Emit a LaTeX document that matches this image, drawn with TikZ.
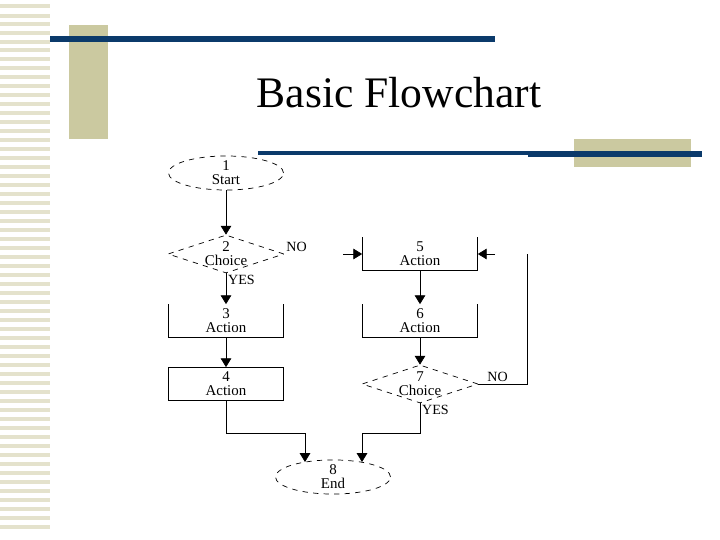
\documentclass[tikz,border=0pt]{standalone}
\usepackage{fontspec}
\setmainfont{Liberation Serif}
\usetikzlibrary{shapes.geometric,arrows.meta}
\definecolor{navy}{HTML}{0B3A6B}
\definecolor{khaki}{HTML}{CBC9A0}
\definecolor{stripe}{HTML}{E4E2CC}
\begin{document}
\begin{tikzpicture}[x=0.02cm, y=-0.02cm,
    every node/.style = {font=\fontsize{8.5}{8}\selectfont, align=center},
    term/.style = {ellipse, draw, dashed, minimum width=2.3cm, minimum height=0.66cm, inner sep=0},
    choice/.style = {diamond, draw, dashed, minimum width=2.32cm, minimum height=0.76cm, inner sep=0},
    act/.style = {rectangle, minimum width=2.3cm, minimum height=0.66cm, inner sep=0},
    flow/.style = {-{Triangle[width=6pt,length=5pt]}},
    lbl/.style = {font=\fontsize{8}{8}\selectfont, inner sep=1pt}]
    \useasboundingbox (0,0) rectangle (720,540);

    % decoration
    \foreach \y in {4,14,22,31,40,48,57,66,75,84,93,102,111,120,129,138,147,156,165,174,183,192,201,210,219,228,237,246,255,264,273,282,291,300,309,318,327,336,345,354,363,372,381,390,399,408,417,426,435,444,453,462,471,480,489,498,507,516,525}
        \fill [stripe] (0,\y) rectangle (50,\y+4);
    \fill [khaki] (69,25) rectangle (108,139);
    \fill [navy] (50,36) rectangle (495,42);
    \fill [khaki] (574,139) rectangle (691,167);
    \fill [navy] (258,151) rectangle (702,155);
    \fill [navy] (528,151) rectangle (702,157);

    \node [font=\fontsize{24.8}{28}\selectfont] (title) at (399,93) {Basic Flowchart};

    % left column
    \node [term] (n1) at (226,173) {1\\Start};
    \node [choice, label=center:{2\\Choice}] (n2) at (226,254) {};
    \node [act] (n3) at (226,321) {3\\Action};
    \node [act, draw] (n4) at (226,384) {4\\Action};

    % right column
    \node [act] (n5) at (420,254) {5\\Action};
    \node [act] (n6) at (420,321) {6\\Action};
    \node [choice, label=center:{7\\Choice}] (n7) at (420,384) {};

    \node [term] (n8) at (333,477) {8\\End};

    % open boxes
    \foreach \b in {n3,n5,n6}
        \draw (\b.north west) -- (\b.south west) -- (\b.south east) -- (\b.north east);

    \node [lbl, anchor=south west] (no2) at (n2.east) {NO};
    \node [lbl, anchor=north west] (yes2) at (n2.south) {YES};
    \node [lbl, anchor=south west] (no7) at ([xshift=0.14cm]n7.east) {NO};
    \node [lbl, anchor=north west] (yes7) at (n7.south) {YES};

    \coordinate (in5l) at (343,254);
    \coordinate (in5r) at (495,254);
    \coordinate (back) at (527,254);
    \coordinate (e4) at (226,433);
    \coordinate (e7) at (420,433);
    \coordinate (t8l) at (305,462);
    \coordinate (t8r) at (362,462);

    \draw [flow] (n1) -- (n2);
    \draw [flow] (n2) -- (n3);
    \draw [flow] (n3) -- (n4);
    \draw [flow] (n5) -- (n6);
    \draw [flow] (n6) -- (n7);
    \draw [flow] (in5l) -- (n5.west);
    \draw [flow] (in5r) -- (n5.east);
    \draw (n7.east) -| (back);
    \draw [flow] (n4.south) -- (e4) -| (t8l);
    \draw [flow] (n7.south) -- (e7) -| (t8r);
\end{tikzpicture}
\end{document}
